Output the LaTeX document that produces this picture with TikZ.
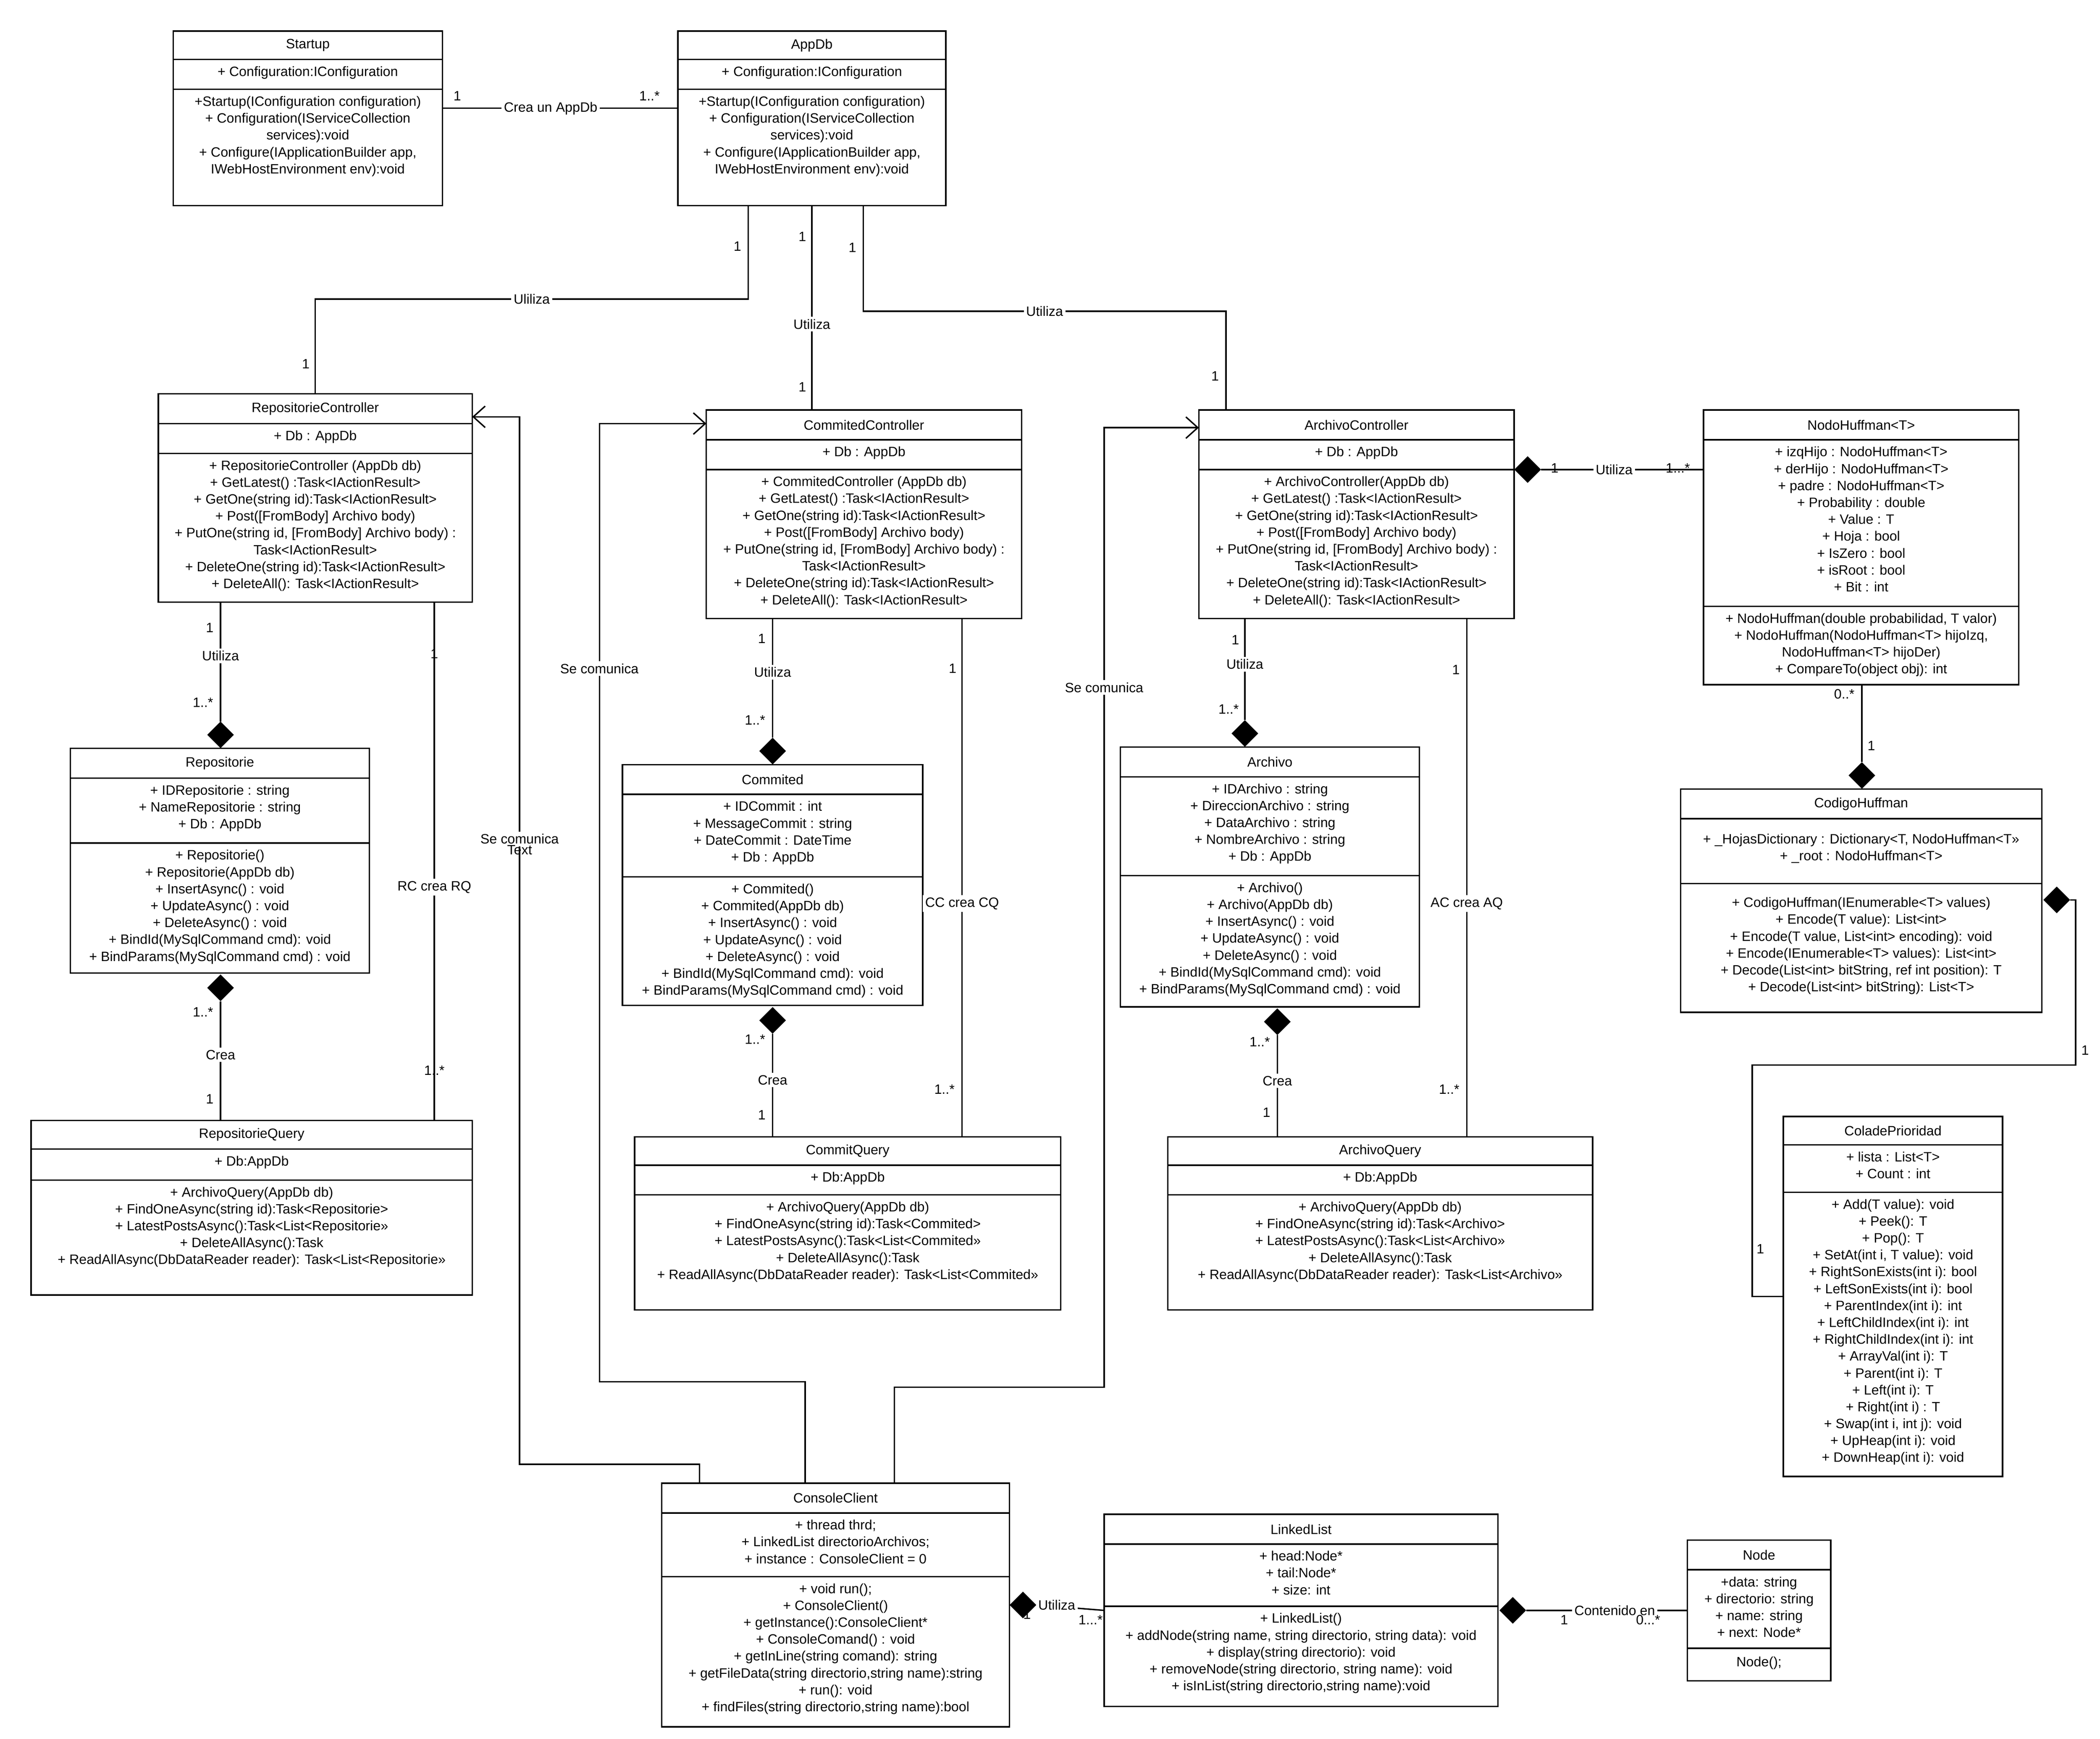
\documentclass[tikz,border=0pt]{standalone}
\usepackage{fontspec}
\setmainfont{Liberation Sans}
\usetikzlibrary{fit,shapes.geometric,arrows.meta}
\tikzset{
 txt/.style={font=\fontsize{5.7}{7.1}\selectfont,align=center,inner sep=1pt},
 lab/.style={txt,fill=white},
 num/.style={txt},
 cls/.style={draw,inner sep=0pt,line width=0.6pt},
 dia/.style={diamond,fill=black,draw=black,inner sep=0pt,minimum width=0.38cm,minimum height=0.38cm},
 con/.style={line width=0.6pt},
 arr/.style={con,-{Straight Barb[length=5pt,width=9pt]}}
}
\newcommand\umlclass[8]{%
 \node[cls,fit={(#2,#3)(#4,#5)}] (#1) {};
 \draw[line width=0.6pt] (#2,#6) -- (#4,#6) (#2,#7) -- (#4,#7);
 \node[txt] (#1-t) at ({(#2+#4)/2},{(#3+#6)/2}) {#8};
}
\newcommand\umltext[4]{\node[txt,anchor=north] (#1) at (#2,#3) {#4};}
\begin{document}
\begin{tikzpicture}[x=0.02cm,y=-0.02cm]
\useasboundingbox[fill=white] (0,0) rectangle (1552,1285);

% Startup / AppDb
\umlclass{startup}{128}{23}{327}{152}{44}{66}{Startup}
\umltext{startup-a}{227.5}{47}{+ Configuration:IConfiguration}
\umltext{startup-m}{227.5}{69}{+Startup(IConfiguration configuration)\\+ Configuration(IServiceCollection\\services):void\\+ Configure(IApplicationBuilder app,\\IWebHostEnvironment env):void}
\umlclass{appdb}{501}{23}{699}{152}{44}{66}{AppDb}
\umltext{appdb-a}{600}{47}{+ Configuration:IConfiguration}
\umltext{appdb-m}{600}{69}{+Startup(IConfiguration configuration)\\+ Configuration(IServiceCollection\\services):void\\+ Configure(IApplicationBuilder app,\\IWebHostEnvironment env):void}

% Controllers
\umlclass{rc}{117}{291}{349}{445}{313}{335}{RepositorieController}
\umltext{rc-a}{233}{316}{+ Db : AppDb}
\umltext{rc-m}{233}{338}{+ RepositorieController (AppDb db)\\+  GetLatest() :Task<IActionResult>\\+ GetOne(string id):Task<IActionResult>\\+ Post([FromBody] Archivo body)\\+ PutOne(string id, [FromBody] Archivo body) :\\Task<IActionResult>\\+ DeleteOne(string id):Task<IActionResult>\\+ DeleteAll(): Task<IActionResult>}
\umlclass{cc}{522}{303}{755}{457}{325}{347}{CommitedController}
\umltext{cc-a}{638.5}{328}{+ Db : AppDb}
\umltext{cc-m}{638.5}{350}{+ CommitedController (AppDb db)\\+  GetLatest() :Task<IActionResult>\\+ GetOne(string id):Task<IActionResult>\\+ Post([FromBody] Archivo body)\\+ PutOne(string id, [FromBody] Archivo body) :\\Task<IActionResult>\\+ DeleteOne(string id):Task<IActionResult>\\+ DeleteAll(): Task<IActionResult>}
\umlclass{ac}{886}{303}{1119}{457}{325}{347}{ArchivoController}
\umltext{ac-a}{1002.5}{328}{+ Db : AppDb}
\umltext{ac-m}{1002.5}{350}{+ ArchivoController(AppDb db)\\+  GetLatest() :Task<IActionResult>\\+ GetOne(string id):Task<IActionResult>\\+ Post([FromBody] Archivo body)\\+ PutOne(string id, [FromBody] Archivo body) :\\Task<IActionResult>\\+ DeleteOne(string id):Task<IActionResult>\\+ DeleteAll(): Task<IActionResult>}
\umlclass{nh}{1259}{303}{1492}{506}{325}{448}{NodoHuffman<T>}
\umltext{nh-a}{1375.5}{328}{+ izqHijo : NodoHuffman<T>\\+ derHijo : NodoHuffman<T>\\+  padre : NodoHuffman<T>\\+ Probability : double\\+ Value : T\\+ Hoja : bool\\+ IsZero : bool\\+ isRoot : bool\\+ Bit : int}
\umltext{nh-m}{1375.5}{451}{+ NodoHuffman(double probabilidad, T valor)\\+ NodoHuffman(NodoHuffman<T> hijoIzq,\\NodoHuffman<T> hijoDer)\\+ CompareTo(object obj): int}

% Entities
\umlclass{rep}{52}{553}{273}{719}{575}{623}{Repositorie}
\umltext{rep-a}{162.5}{578}{+ IDRepositorie  : string\\+ NameRepositorie : string\\+ Db : AppDb}
\umltext{rep-m}{162.5}{626}{+ Repositorie()\\+ Repositorie(AppDb db)\\+  InsertAsync() : void\\+ UpdateAsync()  : void\\+ DeleteAsync()  : void\\+ BindId(MySqlCommand cmd): void\\+ BindParams(MySqlCommand cmd) : void}
\umlclass{com}{460}{565}{682}{743}{587}{648}{Commited}
\umltext{com-a}{571}{590}{+ IDCommit  : int\\+ MessageCommit  : string\\+ DateCommit : DateTime\\+ Db : AppDb}
\umltext{com-m}{571}{651}{+ Commited()\\+ Commited(AppDb db)\\+  InsertAsync() : void\\+ UpdateAsync() : void\\+ DeleteAsync()  : void\\+ BindId(MySqlCommand cmd): void\\+ BindParams(MySqlCommand cmd) : void}
\umlclass{arc}{828}{552}{1049}{744}{574}{647}{Archivo}
\umltext{arc-a}{938.5}{577}{+ IDArchivo : string\\+ DireccionArchivo : string\\+ DataArchivo : string\\+ NombreArchivo : string\\+ Db : AppDb}
\umltext{arc-m}{938.5}{650}{+ Archivo()\\+ Archivo(AppDb db)\\+  InsertAsync() : void\\+ UpdateAsync()  : void\\+ DeleteAsync() : void\\+ BindId(MySqlCommand cmd): void\\+ BindParams(MySqlCommand cmd) : void}
\umlclass{ch}{1242}{583}{1509}{748}{605}{653}{CodigoHuffman}
\umltext{ch-a}{1375.5}{614}{+ \_HojasDictionary : Dictionary<T, NodoHuffman<T>>\\+ \_root : NodoHuffman<T>}
\umltext{ch-m}{1375.5}{661}{+ CodigoHuffman(IEnumerable<T> values)\\+ Encode(T value): List<int>\\+ Encode(T value, List<int> encoding): void\\+ Encode(IEnumerable<T> values): List<int>\\+ Decode(List<int> bitString, ref int position): T\\+ Decode(List<int> bitString): List<T>}

% Queries
\umlclass{rq}{23}{828}{349}{957}{849}{872}{RepositorieQuery}
\umltext{rq-a}{186}{852}{+ Db:AppDb}
\umltext{rq-m}{186}{875}{+ ArchivoQuery(AppDb db)\\+ FindOneAsync(string id):Task<Repositorie>\\+ LatestPostsAsync():Task<List<Repositorie>>\\+ DeleteAllAsync():Task\\+ ReadAllAsync(DbDataReader reader): Task<List<Repositorie>>}
\umlclass{cq}{469}{840}{784}{968}{861}{883}{CommitQuery}
\umltext{cq-a}{626.5}{864}{+ Db:AppDb}
\umltext{cq-m}{626.5}{886}{+ ArchivoQuery(AppDb db)\\+ FindOneAsync(string id):Task<Commited>\\+ LatestPostsAsync():Task<List<Commited>>\\+ DeleteAllAsync():Task\\+ ReadAllAsync(DbDataReader reader): Task<List<Commited>>}
\umlclass{aq}{863}{840}{1177}{968}{861}{883}{ArchivoQuery}
\umltext{aq-a}{1020}{864}{+ Db:AppDb}
\umltext{aq-m}{1020}{886}{+ ArchivoQuery(AppDb db)\\+ FindOneAsync(string id):Task<Archivo>\\+ LatestPostsAsync():Task<List<Archivo>>\\+ DeleteAllAsync():Task\\+ ReadAllAsync(DbDataReader reader): Task<List<Archivo>>}

% Cola
\umlclass{cola}{1318}{825}{1480}{1091}{846}{881}{ColadePrioridad}
\umltext{cola-a}{1399}{849}{+ lista : List<T>\\+ Count : int}
\umltext{cola-m}{1399}{884}{+ Add(T value): void\\+ Peek(): T\\+ Pop(): T\\+ SetAt(int i, T value): void\\+ RightSonExists(int i): bool\\+ LeftSonExists(int i): bool\\+ ParentIndex(int i): int\\+ LeftChildIndex(int i): int\\+ RightChildIndex(int i): int\\+ ArrayVal(int i): T\\+ Parent(int i): T\\+ Left(int i): T\\+ Right(int i) : T\\+ Swap(int i, int j): void\\+ UpHeap(int i): void\\+ DownHeap(int i): void}

% Console, LinkedList, Node
\umlclass{cons}{489}{1096}{746}{1276}{1118}{1165}{ConsoleClient}
\umltext{cons-a}{617.5}{1121}{+ thread thrd;\\+ LinkedList directorioArchivos;\\+ instance : ConsoleClient = 0}
\umltext{cons-m}{617.5}{1168}{+ void run();\\+ ConsoleClient()\\+ getInstance():ConsoleClient*\\+ ConsoleComand() : void\\+ getInLine(string comand): string\\+ getFileData(string directorio,string name):string\\+ run(): void\\+ findFiles(string directorio,string name):bool}
\umlclass{ll}{816}{1119}{1107}{1261}{1141}{1187}{LinkedList}
\umltext{ll-a}{961.5}{1144}{+ head:Node*\\+ tail:Node*\\+ size: int}
\umltext{ll-m}{961.5}{1190}{+ LinkedList()\\+ addNode(string name, string directorio, string data): void\\+ display(string directorio): void\\+ removeNode(string directorio, string name): void\\+ isInList(string directorio,string name):void}
\umlclass{node}{1247}{1138}{1353}{1242}{1160}{1218}{Node}
\umltext{node-a}{1300}{1163}{+data: string\\+ directorio: string\\+ name: string\\+ next:  Node*}
\umltext{node-m}{1300}{1222}{Node();}

% Connectors
\draw[con] (startup.east |- 0,80) -- (appdb.west |- 0,80) node[lab,midway,xshift=-4pt] {Crea un AppDb};
\node[num] at (338,71) {1}; \node[num] at (480,71) {1..*};

\draw[con] (553,152) -- (553,221) -- node[lab,pos=0.5] {Uliliza} (233,221) -- (233,291);
\node[num] at (545,182) {1}; \node[num] at (226,269) {1};
\draw[con] (600,152) -- node[lab,pos=0.58] {Utiliza} (600,303);
\node[num] at (593,175) {1}; \node[num] at (593,286) {1};
\draw[con] (638,152) -- (638,230) -- node[lab,pos=0.5] {Utiliza} (906,230) -- (906,303);
\node[num] at (630,183) {1}; \node[num] at (898,278) {1};

\node[dia] (d1) at (163,543) {};
\draw[con] (163,445) -- node[lab,pos=0.45] {Utiliza} (d1.north);
\node[num] at (155,464) {1}; \node[num] at (150,519) {1..*};
\node[dia] (d2) at (571,555) {};
\draw[con] (571,457) -- node[lab,pos=0.45] {Utiliza} (d2.north);
\node[num] at (563,472) {1}; \node[num] at (558,532) {1..*};
\node[dia] (d3) at (920,542) {};
\draw[con] (920,457) -- node[lab,pos=0.45] {Utiliza} (d3.north);
\node[num] at (913,473) {1}; \node[num] at (908,524) {1..*};

\node[dia] (d4) at (163,730) {};
\draw[con] (d4.south) -- node[lab,pos=0.45] {Crea} (163,828);
\node[num] at (150,748) {1..*}; \node[num] at (155,812) {1};
\node[dia] (d5) at (571,754) {};
\draw[con] (d5.south) -- node[lab,pos=0.45] {Crea} (571,840);
\node[num] at (558,768) {1..*}; \node[num] at (563,824) {1};
\node[dia] (d6) at (944,755) {};
\draw[con] (d6.south) -- node[lab,pos=0.45] {Crea} (944,840);
\node[num] at (931,770) {1..*}; \node[num] at (936,822) {1};

\draw[con] (321,445) -- node[lab,pos=0.55] {RC crea RQ} (321,828);
\node[num] at (321,483) {1}; \node[num] at (321,791) {1..*};
\draw[con] (711,457) -- node[lab,pos=0.55] {CC crea CQ} (711,840);
\node[num] at (704,494) {1}; \node[num] at (698,805) {1..*};
\draw[con] (1084,457) -- node[lab,pos=0.55] {AC crea AQ} (1084,840);
\node[num] at (1076,495) {1}; \node[num] at (1071,805) {1..*};

\node[dia] (d7) at (1129,347) {};
\draw[con] (d7.east) -- node[lab,pos=0.45] {Utiliza} (1259,347);
\node[num] at (1149,346) {1}; \node[num] at (1240,346) {1...*};
\node[dia] (d8) at (1376,573) {};
\draw[con] (1376,506) -- (d8.north);
\node[num] at (1363,513) {0..*}; \node[num] at (1383,551) {1};
\node[dia] (d9) at (1520,665) {};
\draw[con] (d9.east) -- (1534,665) -- (1534,787) -- (1295,787) -- (1295,958) -- (1318,958);
\node[num] at (1541,776) {1}; \node[num] at (1301,923) {1};

\draw[arr] (517,1096) -- (517,1082) -- (384,1082) -- (384,308) -- (349,308);
\node[lab] at (384,620) {Se comunica}; \node[txt] at (384,628) {Text};
\draw[arr] (595,1096) -- (595,1021) -- (443,1021) -- (443,313) -- (522,313);
\node[lab] at (443,494) {Se comunica};
\draw[arr] (661,1096) -- (661,1025) -- (816,1025) -- (816,316) -- (886,316);
\node[lab] at (816,508) {Se comunica};

\node[dia] (d10) at (756,1186) {};
\draw[con] (d10.east) -- (816,1190);
\node[lab] at (781,1186) {Utiliza};
\node[num] at (759,1193) {1}; \node[num] at (806,1197) {1...*};
\node[dia] (d11) at (1118,1190) {};
\draw[con] (d11.east) -- node[lab,pos=0.55] {Contenido en} (1247,1190);
\node[num] at (1156,1197) {1}; \node[num] at (1218,1197) {0...*};
\end{tikzpicture}
\end{document}
